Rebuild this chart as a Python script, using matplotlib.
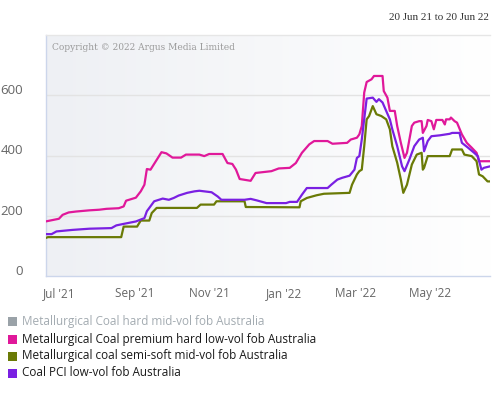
import numpy as np
import pandas as pd
import matplotlib
matplotlib.use("Agg")
import matplotlib.pyplot as plt
from matplotlib.transforms import ScaledTranslation
from matplotlib.patches import Rectangle
from matplotlib.colors import LinearSegmentedColormap

# ---------------- data ----------------
date_range_label = "20 Jun 21 to 20 Jun 22"
copyright_text = "Copyright \u00a9 2022 Argus Media Limited"

series_names = [
    "Metallurgical Coal hard mid-vol fob Australia",
    "Metallurgical Coal premium hard low-vol fob Australia",
    "Metallurgical coal semi-soft mid-vol fob Australia",
    "Coal PCI low-vol fob Australia",
]
series_colors = ["#9aa2a8", "#e0189a", "#6a7a06", "#7a20e2"]
series_visible = [False, True, True, True]

premium_dates = [
    "2021-06-20", "2021-07-01", "2021-07-04", "2021-07-09", "2021-07-15", "2021-07-26",
    "2021-08-03", "2021-08-09", "2021-08-19", "2021-08-23", "2021-08-25", "2021-09-02",
    "2021-09-06", "2021-09-09", "2021-09-11", "2021-09-14", "2021-09-23", "2021-09-27",
    "2021-10-02", "2021-10-09", "2021-10-13", "2021-10-24", "2021-10-28", "2021-11-01",
    "2021-11-12", "2021-11-16", "2021-11-20", "2021-11-23", "2021-11-26", "2021-12-05",
    "2021-12-09", "2021-12-22", "2021-12-28", "2022-01-06", "2022-01-11", "2022-01-16",
    "2022-01-22", "2022-01-26", "2022-02-06", "2022-02-10", "2022-02-22", "2022-02-25",
    "2022-03-02", "2022-03-04", "2022-03-06", "2022-03-08", "2022-03-10", "2022-03-14",
    "2022-03-16", "2022-03-23", "2022-03-24", "2022-03-27", "2022-03-29", "2022-04-02",
    "2022-04-04", "2022-04-07", "2022-04-10", "2022-04-12", "2022-04-16", "2022-04-18",
    "2022-04-22", "2022-04-24", "2022-04-25", "2022-04-28", "2022-04-29", "2022-05-02",
    "2022-05-04", "2022-05-06", "2022-05-11", "2022-05-13", "2022-05-14", "2022-05-17",
    "2022-05-18", "2022-05-21", "2022-05-23", "2022-05-27", "2022-05-31", "2022-06-04",
    "2022-06-08", "2022-06-10", "2022-06-19",
]
premium_values = [
    181, 190, 203, 211, 214, 218,
    220, 223, 225, 231, 250, 260,
    281, 303, 355, 353, 411, 407,
    393, 393, 403, 403, 398, 405,
    405, 375, 372, 353, 322, 316,
    342, 348, 357, 359, 375, 409,
    437, 448, 448, 439, 442, 453,
    459, 470, 498, 609, 644, 653,
    664, 664, 614, 592, 548, 548,
    498, 442, 392, 409, 498, 509,
    514, 514, 475, 498, 518, 514,
    487, 518, 518, 503, 520, 520,
    526, 514, 509, 470, 442, 426,
    409, 381, 381,
]

semisoft_dates = [
    "2021-06-20", "2021-06-22", "2021-08-21", "2021-08-23", "2021-09-03", "2021-09-06",
    "2021-09-13", "2021-09-15", "2021-09-19", "2021-10-22", "2021-10-25", "2021-11-05",
    "2021-11-07", "2021-11-30", "2021-12-01", "2022-01-14", "2022-01-15", "2022-01-20",
    "2022-01-28", "2022-02-03", "2022-02-24", "2022-02-26", "2022-03-02", "2022-03-04",
    "2022-03-06", "2022-03-08", "2022-03-10", "2022-03-12", "2022-03-15", "2022-03-18",
    "2022-03-22", "2022-03-26", "2022-03-29", "2022-03-31", "2022-04-04", "2022-04-07",
    "2022-04-09", "2022-04-12", "2022-04-16", "2022-04-20", "2022-04-24", "2022-04-25",
    "2022-04-26", "2022-04-29", "2022-05-17", "2022-05-19", "2022-05-27", "2022-05-29",
    "2022-06-04", "2022-06-08", "2022-06-10", "2022-06-13", "2022-06-17", "2022-06-19",
]
semisoft_values = [
    126, 129, 129, 164, 164, 184,
    184, 209, 226, 226, 237, 237,
    248, 248, 229, 228, 248, 259,
    268, 273, 276, 303, 337, 348,
    353, 431, 520, 531, 564, 537,
    531, 520, 487, 431, 376, 320,
    276, 303, 370, 403, 409, 353,
    359, 398, 398, 420, 420, 403,
    398, 381, 337, 331, 314, 314,
]

pci_dates = [
    "2021-06-20", "2021-06-25", "2021-06-29", "2021-07-12", "2021-07-26", "2021-08-13",
    "2021-08-17", "2021-08-23", "2021-09-02", "2021-09-07", "2021-09-09", "2021-09-11",
    "2021-09-13", "2021-09-17", "2021-09-24", "2021-09-29", "2021-10-03", "2021-10-07",
    "2021-10-14", "2021-10-20", "2021-10-24", "2021-10-28", "2021-11-03", "2021-11-08",
    "2021-11-11", "2021-11-30", "2021-12-05", "2021-12-10", "2021-12-18", "2022-01-03",
    "2022-01-06", "2022-01-12", "2022-01-16", "2022-01-20", "2022-02-06", "2022-02-09",
    "2022-02-14", "2022-02-18", "2022-02-24", "2022-02-28", "2022-03-02", "2022-03-04",
    "2022-03-06", "2022-03-10", "2022-03-15", "2022-03-18", "2022-03-20", "2022-03-23",
    "2022-03-26", "2022-03-29", "2022-03-31", "2022-04-04", "2022-04-08", "2022-04-10",
    "2022-04-14", "2022-04-18", "2022-04-22", "2022-04-25", "2022-04-26", "2022-04-29",
    "2022-05-02", "2022-05-09", "2022-05-17", "2022-05-19", "2022-05-25", "2022-05-27",
    "2022-06-01", "2022-06-06", "2022-06-09", "2022-06-12", "2022-06-14", "2022-06-19",
]
pci_values = [
    139, 139, 148, 153, 157, 159,
    168, 173, 181, 189, 192, 215,
    226, 248, 257, 253, 259, 267,
    276, 281, 283, 281, 278, 264,
    253, 253, 256, 251, 242, 242,
    246, 246, 270, 292, 292, 303,
    320, 326, 333, 353, 392, 398,
    453, 589, 592, 578, 587, 576,
    548, 520, 487, 431, 364, 348,
    387, 431, 453, 459, 414, 448,
    464, 467, 472, 475, 475, 442,
    426, 409, 398, 353, 359, 364,
]

y_ticks = [0, 200, 400, 600]
x_tick_dates = ["2021-07-01", "2021-09-01", "2021-11-01", "2022-01-01", "2022-03-01", "2022-05-01"]
x_tick_labels = ["Jul '21", "Sep '21", "Nov '21", "Jan '22", "Mar '22", "May '22"]
x_min, x_max = "2021-06-20", "2022-06-19"
y_min, y_max = 0, 800

# ---------------- figure ----------------
W, H = 500, 401
fig = plt.figure(figsize=(W / 100, H / 100), dpi=100)
fig.patch.set_facecolor("white")

L, R, T, B = 45.5, 490, 35, 276
ax = fig.add_axes([L / W, 1 - B / H, (R - L) / W, (B - T) / H])
ax.set_facecolor("white")

# gradient plot background
grad = np.linspace(0, 1, 256).reshape(1, -1)
cmap = LinearSegmentedColormap.from_list("bg", ["#eef0f4", "#ffffff"])
ax.imshow(grad, extent=[0, 1, 0, 1], transform=ax.transAxes, aspect="auto",
          cmap=cmap, zorder=0, interpolation="bicubic")

series_data = [
    (None, None),
    (premium_dates, premium_values),
    (semisoft_dates, semisoft_values),
    (pci_dates, pci_values),
]
for (dates, vals), color, vis in zip(series_data, series_colors, series_visible):
    if not vis:
        continue
    ax.plot(pd.to_datetime(dates), vals, color=color, lw=1.6, zorder=3,
            solid_joinstyle="round", solid_capstyle="round")

ax.set_xlim(pd.Timestamp(x_min), pd.Timestamp(x_max))
ax.set_ylim(y_min, y_max)

ax.set_yticks(y_ticks)
ax.set_yticklabels([str(v) for v in y_ticks])
ax.set_xticks(pd.to_datetime(x_tick_dates))
ax.set_xticklabels(x_tick_labels)

for yv in y_ticks[1:]:
    ax.axhline(yv, color="#e3e3e3", lw=1.0, zorder=1)

ax.tick_params(axis="both", length=0, colors="#666666", labelsize=8.5)
ax.tick_params(axis="y", labelsize=9.5, pad=16)
ax.tick_params(axis="x", pad=8)
for lab in ax.get_yticklabels():
    lab.set_fontfamily("Open Sans")
    lab.set_transform(lab.get_transform() + ScaledTranslation(0, 0.06, fig.dpi_scale_trans))
for lab in ax.get_xticklabels():
    lab.set_fontfamily("Open Sans")

ax.spines["right"].set_visible(False)
ax.spines["top"].set_color("#e6e6e6")
ax.spines["left"].set_color("#ccd6eb")
ax.spines["bottom"].set_color("#ccd6eb")
for s in ["top", "left", "bottom"]:
    ax.spines[s].set_linewidth(1.0)

# copyright inside plot
fig.text(52 / W, 1 - 48 / H, copyright_text,
         fontsize=6.5, color="#9a9a9a", family="DejaVu Serif", va="center", ha="left")

# date range top-right
fig.text(489 / W, 1 - 18 / H, date_range_label, fontsize=8, color="#333333",
         family="Liberation Serif", ha="right", va="center")

# legend
leg_y = [321, 339, 356, 373]
for name, color, vis, yy in zip(series_names, series_colors, series_visible, leg_y):
    fig.patches.append(Rectangle((8 / W, 1 - (yy + 4.5) / H), 9 / W, 9 / H,
                                 transform=fig.transFigure, facecolor=color,
                                 edgecolor="none"))
    fig.text(22 / W, 1 - yy / H, name, fontsize=8.5, family="Open Sans",
             color="#1a1a1a" if vis else "#a3abb1", ha="left", va="center")

fig.savefig("out.png", dpi=100)
